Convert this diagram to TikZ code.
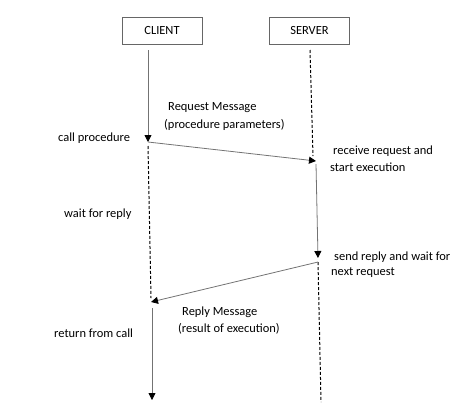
\documentclass[tikz,border=0pt]{standalone}
\usepackage{fontspec}
\setmainfont{Carlito}
\usetikzlibrary{arrows.meta}
\begin{document}
\begin{tikzpicture}[x=1bp,y=-1bp,
  box/.style={draw=gray!80!black,line width=0.7pt,minimum width=80bp,minimum height=27bp,inner sep=0pt,font=\fontsize{12.5}{15}\selectfont},
  lbl/.style={font=\fontsize{12.5}{15}\selectfont,inner sep=0pt,align=left},
  msg/.style={draw=gray!90!black,line width=0.8pt,-{Triangle[length=7bp,width=7bp,fill=black,color=black]}},
  life/.style={draw=black,line width=1pt,dash pattern=on 3bp off 2bp}]
\useasboundingbox (0,0) rectangle (474,417);
\node[box] (client) at (162,30.5) {CLIENT};
\node[box] (server) at (309.5,30.5) {SERVER};
% client lifeline
\coordinate (c0) at (148,50);
\coordinate (c1) at (148,142);
\coordinate (c1b) at (148,146);
\coordinate (c2) at (151,302);
\coordinate (c2a) at (151,298);
\coordinate (c3) at (152,308);
\coordinate (c4) at (152,400);
% server lifeline
\coordinate (s0) at (310,50);
\coordinate (s1) at (316,161);
\coordinate (s1a) at (313,156);
\coordinate (s1b) at (316,164);
\coordinate (s2) at (318,258);
\coordinate (s2b) at (318,262);
\coordinate (s3) at (321,402);
\draw[msg] (c0) -- (c1);
\draw[life] (c1b) -- (c2a);
\draw[msg] (c3) -- (c4);
\draw[life] (s0) -- (s1a);
\draw[msg] (c1) -- (s1);
\draw[msg] (s1b) -- (s2);
\draw[life] (s2b) -- (s3);
\draw[msg] (s2b) -- (c2);
% labels
\node[lbl,anchor=west] (rq1) at (168,108) {Request Message};
\node[lbl,anchor=west] (rq2) at (164,125) {(procedure parameters)};
\node[lbl,anchor=west] (cp) at (58,138) {call procedure};
\node[lbl,anchor=west] (rr1) at (333,151) {receive request and};
\node[lbl,anchor=west] (rr2) at (330,167) {start execution};
\node[lbl,anchor=west] (wr) at (64,214) {wait for reply};
\node[lbl,anchor=west] (sr1) at (334,257) {send reply and wait for};
\node[lbl,anchor=west] (sr2) at (331,273) {next request};
\node[lbl,anchor=west] (rm1) at (182,312) {Reply Message};
\node[lbl,anchor=west] (rm2) at (178,329) {(result of execution)};
\node[lbl,anchor=west] (rc) at (54,333) {return from call};
\end{tikzpicture}
\end{document}
